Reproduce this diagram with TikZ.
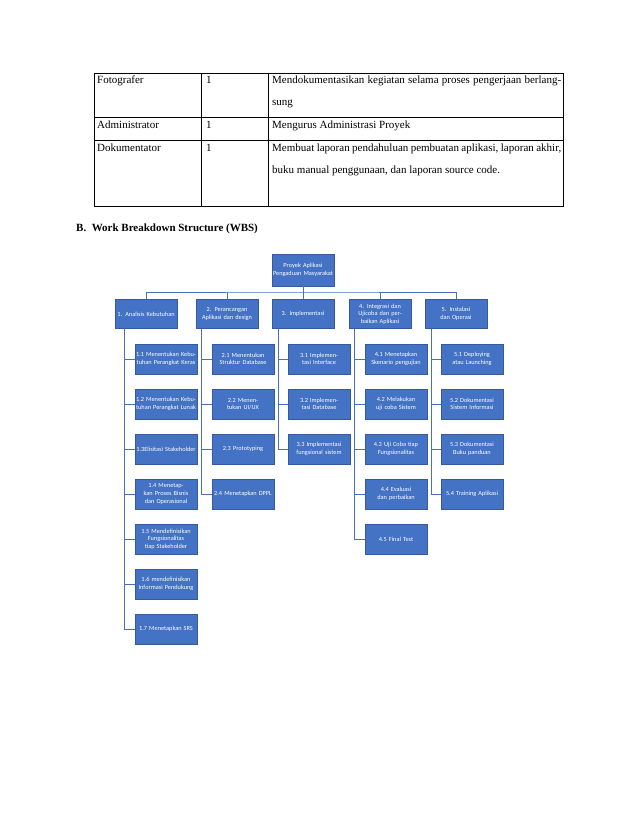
\documentclass[tikz,border=0pt]{standalone}
\usepackage{fontspec}
\setmainfont{Liberation Serif}
\newfontfamily\boxfont{Carlito}
\definecolor{wbs}{HTML}{4472C4}
\definecolor{wline}{HTML}{4A70B8}
\tikzset{
  bx/.style={fill=wbs,draw=wbs!80!black,line width=0.3pt,minimum width=62pt,minimum height=30pt,inner sep=1pt,text width=60pt,align=center,font=\boxfont\fontsize{6.3}{7.6}\selectfont,text=white},
  lbx/.style={bx,minimum width=62pt,minimum height=29pt},
  cn/.style={draw=wline,line width=0.9pt},
  cell/.style={anchor=north west,inner sep=0pt,font=\fontsize{11}{22}\selectfont},
}
\begin{document}
\begin{tikzpicture}[x=1pt,y=-1pt]
\useasboundingbox (0,0) rectangle (638,826);
% table
\draw[line width=0.8pt] (94,73) rectangle (563,206);
\draw[line width=0.8pt] (94,117) -- (563,117) (94,140) -- (563,140) (201,73) -- (201,206) (268,73) -- (268,206);
\node[cell] (t1) at (97,76) {Fotografer};
\node[cell] (t2) at (206,76) {1};
\node[cell,text width=289pt,align=justify] (t3) at (272,76) {Mendokumentasikan kegiatan selama proses pengerjaan berlangsung};
\node[cell] (t4) at (97,121) {Administrator};
\node[cell] (t5) at (206,121) {1};
\node[cell] (t6) at (272,121) {Mengurus Administrasi Proyek};
\node[cell] (t7) at (97,144) {Dokumentator};
\node[cell] (t8) at (206,144) {1};
\node[cell,text width=289pt,align=justify] (t9) at (272,144) {Membuat laporan pendahuluan pembuatan aplikasi, laporan akhir, buku manual penggunaan, dan laporan source code.};
\node[anchor=west,inner sep=0pt,font=\bfseries\fontsize{11}{13}\selectfont] (hd) at (76,229) {B.\ \ Work Breakdown Structure (WBS)};
% WBS
\node[bx,minimum height=32pt] (r) at (303,270) {Proyek Aplikasi Pengaduan Masyarakat};
\node[lbx] (a) at (146,314) {1. Analisis Kebutuhan};
\node[lbx] (b) at (227,314) {2. Perancangan Aplikasi dan design};
\node[lbx] (c) at (303,314) {3. Implementasi};
\node[lbx] (d) at (380,314) {4. Integrasi dan Ujicoba dan perbaikan Aplikasi};
\node[lbx] (e) at (456,314) {5. Instalasi dan Operasi};
\coordinate (bus) at (303,292);
\draw[cn] (r.south) -- (bus);
\draw[cn] (a.north) |- (bus) -| (e.north);
\foreach \n in {b,c,d} \draw[cn] (\n.north) -- (\n.north |- bus);
% children
\node[bx] (a1) at (166,359) {1.1 Menentukan Kebutuhan Perangkat Keras};
\node[bx] (a2) at (166,404) {1.2 Menentukan Kebutuhan Perangkat Lunak};
\node[bx] (a3) at (166,449) {1.3Elisitasi Stakeholder};
\node[bx] (a4) at (166,494) {1.4 Menetapkan Proses Bisnis dan Operasional};
\node[bx] (a5) at (166,539) {1.5 Mendefinisikan Fungsionalitas tiap Stakeholder};
\node[bx] (a6) at (166,584) {1.6 mendefinisikan Informasi Pendukung};
\node[bx] (a7) at (166,629) {1.7 Menetapkan SRS};
\node[bx] (b1) at (243,359) {2.1 Menentukan Struktur Database};
\node[bx] (b2) at (243,404) {2.2 Menentukan UI/UX};
\node[bx] (b3) at (243,449) {2.3 Prototyping};
\node[bx] (b4) at (243,494) {2.4 Menetapkan DPPL};
\node[bx] (c1) at (319,359) {3.1 Implementasi Interface};
\node[bx] (c2) at (319,404) {3.2 Implementasi Database};
\node[bx] (c3) at (319,449) {3.3 Implementasi fungsional sistem};
\node[bx] (d1) at (396,359) {4.1 Menetapkan Skenario pengujian};
\node[bx] (d2) at (396,404) {4.2 Melakukan uji coba Sistem};
\node[bx] (d3) at (396,449) {4.3 Uji Coba tiap Fungsionalitas};
\node[bx] (d4) at (396,494) {4.4 Evaluasi dan perbaikan};
\node[bx] (d5) at (396,539) {4.5 Final Test};
\node[bx] (e1) at (472,359) {5.1 Deploying atau Launching};
\node[bx] (e2) at (472,404) {5.2 Dokumentasi Sistem Informasi};
\node[bx] (e3) at (472,449) {5.3 Dokumentasi Buku panduan};
\node[bx] (e4) at (472,494) {5.4 Training Aplikasi};
\foreach \p/\k/\dx in {a/7/-22,b/4/-26,c/3/-25,d/5/-26,e/4/-25}{
  \coordinate (\p top) at ([xshift=\dx pt]\p.south);
  \foreach \i in {1,...,\k} \draw[cn] (\p top) |- (\p\i.west);
}
\end{tikzpicture}
\end{document}
